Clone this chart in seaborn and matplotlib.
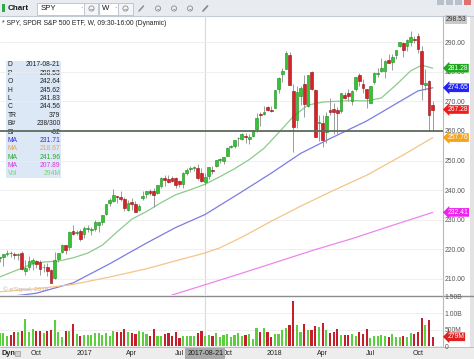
"""
SPY weekly candlestick chart (eSignal look) with moving averages and volume.
"""

import numpy as np
import pandas as pd
import matplotlib
matplotlib.use("Agg")
import matplotlib.pyplot as plt
from matplotlib.patches import Rectangle, Circle
import matplotlib.transforms as mtransforms
import seaborn as sns

# ===================================================================
# Data: SPY weekly bars, week of 2016-07-25 .. week of 2018-10-29
# ===================================================================

opens = [
    216.9, 217.2, 218.3, 218.8, 218.4, 218.0, 218.7, 212.4, 213.8, 215.1,
    215.8, 215.7, 213.8, 214.0, 213.0, 210.1, 216.5, 219.0, 221.2, 220.6,
    226.2, 225.3, 226.0, 225.0, 226.9, 226.3, 226.7, 228.2, 229.3, 231.9,
    235.5, 236.3, 237.9, 237.6, 237.0, 233.3, 235.8, 235.4, 233.1, 237.2,
    238.7, 239.8, 239.5, 239.0, 241.3, 244.0, 243.6, 244.2, 243.9, 242.9,
    241.9, 245.6, 247.0, 247.5, 247.5, 245.6, 242.64, 244.9, 246.8, 248.0,
    250.1, 250.0, 251.5, 254.6, 254.8, 257.5, 257.2, 258.3, 257.3, 258.3,
    260.6, 265.8, 265.6, 268.1, 267.1, 267.8, 274.1, 279.4, 281.1, 285.9,
    273.5, 263.8, 271.7, 275.9, 268.5, 280.0, 273.9, 262.6, 262.6, 259.5,
    267.0, 267.3, 267.0, 266.9, 272.1, 273.0, 270.0, 274.1, 279.1, 275.8,
    274.1, 269.5, 276.5, 279.3, 280.3, 280.2, 284.1, 283.4, 285.9, 288.9,
    289.8, 288.7, 290.0, 291.3, 292.1, 287.1, 275.6, 277.0, 268.8,
]
highs = [
    217.4, 218.2, 219.6, 219.2, 219.0, 218.7, 219.2, 216.4, 217.7, 217.0,
    216.4, 216.2, 214.8, 215.1, 213.2, 219.0, 218.4, 221.6, 221.5, 226.0,
    228.3, 226.6, 226.7, 227.8, 228.0, 227.4, 230.0, 229.3, 231.5, 235.1,
    237.2, 240.3, 238.0, 239.6, 237.6, 236.5, 237.3, 236.3, 235.4, 239.5,
    239.7, 240.2, 240.7, 241.7, 244.3, 245.0, 245.0, 244.6, 244.4, 243.4,
    246.0, 247.3, 248.0, 248.0, 248.9, 247.4, 245.62, 247.8, 248.3, 250.1,
    250.7, 251.3, 254.7, 255.3, 257.1, 257.9, 259.4, 259.3, 259.0, 260.5,
    266.1, 266.4, 268.6, 268.6, 268.6, 274.0, 278.3, 281.5, 287.2, 286.7,
    275.9, 275.3, 275.3, 278.9, 278.9, 280.4, 274.2, 265.3, 265.3, 266.4,
    271.3, 269.4, 268.0, 273.0, 273.1, 274.2, 274.0, 278.4, 279.5, 277.5,
    274.1, 275.4, 279.9, 281.2, 284.8, 284.0, 286.0, 286.0, 287.6, 290.3,
    290.0, 291.3, 293.9, 292.2, 293.2, 288.9, 281.1, 277.4, 270.3,
]
lows = [
    215.6, 214.3, 217.6, 217.3, 216.5, 216.3, 213.0, 211.2, 212.9, 213.0,
    213.5, 211.2, 212.2, 210.9, 208.4, 209.9, 215.6, 218.5, 218.4, 219.7,
    224.8, 224.6, 222.7, 223.9, 225.9, 224.6, 226.0, 225.9, 228.1, 231.4,
    234.7, 236.0, 235.7, 236.4, 232.8, 232.9, 233.1, 232.5, 232.8, 236.7,
    237.4, 238.4, 234.3, 238.7, 240.8, 241.5, 242.4, 242.8, 240.8, 240.9,
    240.7, 245.1, 246.0, 246.4, 243.4, 242.7, 241.83, 243.8, 245.4, 247.9,
    249.0, 248.9, 251.5, 254.3, 254.4, 255.0, 256.8, 256.1, 255.6, 257.9,
    259.6, 261.6, 265.4, 266.9, 266.6, 267.7, 273.0, 276.5, 280.9, 275.5,
    252.9, 261.0, 268.8, 264.8, 268.2, 274.0, 257.8, 256.6, 254.7, 256.0,
    265.3, 259.0, 259.1, 266.2, 270.9, 270.0, 268.9, 273.6, 275.4, 273.0,
    267.8, 269.5, 276.0, 278.4, 279.9, 278.0, 283.2, 280.6, 284.4, 288.5,
    285.0, 287.0, 288.9, 289.7, 286.3, 270.4, 274.0, 259.9, 259.85,
]
closes = [
    217.1, 218.2, 218.5, 218.5, 218.0, 218.4, 213.3, 213.4, 216.0, 216.3,
    215.0, 213.1, 214.0, 212.5, 208.6, 216.4, 218.5, 221.5, 219.7, 225.9,
    225.0, 225.7, 223.5, 227.2, 227.0, 226.7, 229.0, 229.3, 231.5, 235.1,
    236.7, 238.4, 237.7, 237.0, 233.9, 235.7, 235.2, 232.5, 234.6, 238.1,
    239.7, 239.0, 238.3, 241.7, 244.2, 243.4, 242.6, 243.1, 241.8, 242.1,
    245.6, 246.9, 247.4, 247.9, 244.1, 243.0, 244.56, 247.8, 246.6, 250.1,
    250.1, 251.2, 254.4, 255.0, 257.1, 257.7, 259.0, 258.1, 257.9, 260.4,
    264.5, 265.5, 266.5, 267.2, 266.9, 274.0, 278.1, 280.4, 286.6, 275.5,
    261.5, 273.1, 274.7, 269.1, 278.9, 274.2, 258.1, 263.2, 257.0, 265.2,
    266.6, 266.6, 266.0, 273.0, 271.3, 272.0, 273.6, 278.2, 277.1, 274.7,
    271.3, 275.4, 279.6, 279.7, 281.4, 283.6, 283.2, 285.1, 287.5, 290.3,
    287.6, 290.9, 292.0, 290.7, 287.8, 276.0, 276.3, 265.3, 267.28,
]
# weekly volume, millions of shares
volumes = [
    384, 384, 313, 333, 414, 414, 444, 808, 434, 515,
    465, 465, 384, 444, 475, 778, 424, 273, 444, 444,
    667, 364, 313, 333, 333, 333, 384, 394, 333, 384,
    313, 465, 414, 424, 515, 414, 404, 364, 444, 414,
    364, 303, 525, 303, 303, 374, 384, 313, 424, 232,
    303, 303, 303, 303, 384, 465, 294, 343, 303, 404,
    273, 343, 353, 263, 333, 404,
    303, 333, 354, 222, 545, 434, 545, 414, 273, 354,
    354, 485, 535, 636, 1364, 626, 424, 657, 485, 485,
    606, 566, 707, 485, 384, 424, 505, 333, 333, 333,
    354, 313, 424, 354, 505, 253, 303, 303, 343, 303,
    263, 364, 283, 283, 293, 283, 394, 374, 424, 859,
    626, 778, 279,
]

# moving averages, sampled (week index -> value) off the chart
ma20_weeks = [0, 4, 8, 12, 16, 20, 24, 28, 32, 36, 40, 44, 48, 52, 56, 60,
              64, 68, 72, 76, 80, 84, 88, 92, 96, 100, 104, 108, 112, 115, 118]
ma20 = [210.5, 212.5, 214.5, 215.6, 215.9, 217.0, 218.6, 221.3, 225.8, 230.1,
        232.7, 235.7, 238.4, 240.1, 241.96, 244.5, 247.2, 250.3, 254.1, 259.4,
        264.9, 268.8, 269.8, 270.1, 270.3, 270.2, 271.2, 275.6, 280.4, 282.3,
        281.28]
ma50_weeks = [0, 10, 20, 30, 40, 48, 56, 66, 74, 82, 90, 100, 110, 114, 118]
ma50 = [203.5, 205.0, 208.5, 215.0, 222.0, 227.3, 231.71, 239.4, 245.7, 252.4,
        257.4, 263.4, 270.7, 273.6, 274.65]
ma100_weeks = [0, 10, 20, 30, 40, 48, 56, 60, 66, 74, 82, 90, 100, 110, 118]
ma100 = [205.5, 206.5, 208.0, 210.5, 213.3, 216.0, 218.67, 220.4, 224.0, 229.4,
         234.5, 239.3, 245.0, 251.9, 257.76]
ma200_weeks = [40, 48, 56, 66, 76, 86, 96, 106, 118]
ma200 = [201.6, 204.8, 207.89, 211.8, 215.8, 219.8, 223.5, 227.6, 232.41]

tick_weeks = [10, 23, 36, 49, 62, 75, 88, 101, 114]
tick_labels = ["Oct", "2017", "Apr", "Jul", "Oct", "2018", "Apr", "Jul", "Oct"]
price_ticks = [210, 220, 230, 240, 250, 260, 270, 280, 290]
vol_ticks = [0, 500, 1000]
vol_tick_labels = ["0", "500M", "1.00B"]

cursor_week = 56
cursor_label = "2017-08-21"
cursor_price = 259.9

info_labels = ["D", "P", "O", "H", "L", "C", "TR", "B#", "BI",
               "MA", "MA", "MA", "MA", "Vol"]
info_values = ["2017-08-21", "298.53", "242.64", "245.62", "241.83", "244.56",
               "379", "238/300", "-62", "231.71", "218.67", "241.96", "207.89",
               "294M"]

tag_values = [281.28, 274.65, 267.28, 257.76, 232.41]
top_value = 298.53
last_volume = 279

# ===================================================================
# Style
# ===================================================================

UP = "#33c433"
UP_EDGE = "#1d8a1d"
DOWN = "#d92226"
DOWN_EDGE = "#8e1014"
WICK = "#8c8c8c"
VOL_UP = "#5ccf3e"
VOL_DOWN = "#c41f2a"

MA_COLORS = {"20": "#8ccb8c", "50": "#7c7ce4", "100": "#f5c489", "200": "#ee85ee"}
TAG_COLORS = ["#1fa81f", "#2323f5", "#ec1e1e", "#f5a420", "#ef22ef"]
INFO_COLORS = ["#222222"] * 9 + ["#3030d8", "#f0a448", "#2ea62e", "#dd33dd", "#7fcf7f"]

W, H = 474, 359

sns.set_theme(style="white")
plt.rcParams["font.family"] = ["Liberation Sans", "DejaVu Sans"]

fig = plt.figure(figsize=(W / 100, H / 100), dpi=100)
fig.patch.set_facecolor("white")

# background layer in pixel coordinates (y down)
bg = fig.add_axes([0, 0, 1, 1], zorder=-5)
bg.set_xlim(0, W)
bg.set_ylim(H, 0)
bg.axis("off")

ax_p = fig.add_axes([0, 64 / H, 443 / W, 279 / H])
ax_v = fig.add_axes([0, 12 / H, 443 / W, 50 / H])
for ax in (ax_p, ax_v):
    ax.set_facecolor("none")

# ===================================================================
# Window chrome
# ===================================================================

bg.add_patch(Rectangle((0, 0), W, 16, fc="#e8ecf1", ec="none"))
bg.plot([0, W], [16, 16], color="#c3cad3", lw=0.8)
bg.add_patch(Rectangle((2.5, 4), 2.5, 8, fc="#2eaa4a", ec="none"))
bg.text(8, 8.5, "Chart", fontsize=5.8, fontweight="bold", color="#1a1a1a", va="center")
bg.add_patch(Rectangle((37.5, 2.5), 47, 12, fc="white", ec="#b9c1ca", lw=0.6))
bg.text(40.5, 8.7, "SPY", fontsize=5.6, color="#111111", va="center")
bg.text(80, 8.5, "·", fontsize=5, color="#666666", va="center")
bg.add_patch(Rectangle((84.5, 2.5), 14, 12, fc="#f3f5f8", ec="#b9c1ca", lw=0.6))
bg.add_patch(Rectangle((99.5, 2.5), 18.5, 12, fc="white", ec="#b9c1ca", lw=0.6))
bg.text(102, 8.7, "W", fontsize=5.6, color="#111111", va="center")
bg.text(114.5, 8.5, "·", fontsize=5, color="#666666", va="center")
bg.add_patch(Rectangle((118, 2.5), 15, 12, fc="#f3f5f8", ec="#b9c1ca", lw=0.6))
for cx in (91.5, 125.5, 158, 174, 190):
    bg.add_patch(Circle((cx, 8.5), 2.6, fc="none", ec="#8d8d8d", lw=0.6))
    bg.plot([cx - 1.2, cx + 1.2], [8.5, 8.5], color="#8d8d8d", lw=0.5)
bg.plot([139, 143.5], [11, 6], color="#8d8d8d", lw=1.1, solid_capstyle="round")
bg.plot([203, 207.5], [11, 6], color="#8d8d8d", lw=1.3, solid_capstyle="round")
for x0, col in [(437, "#b8c0cc"), (446, "#b8c0cc"), (455, "#b8c0cc"), (464, "#e07070")]:
    bg.add_patch(Rectangle((x0, 0), 7, 4.5, fc=col, ec="none"))

bg.text(2.5, 23.5, "* SPY, SPDR S&P 500 ETF, W, 09:30-16:00 (Dynamic)",
        fontsize=4.9, color="#222222", va="center")

# info box
bg.add_patch(Rectangle((6.5, 60.5), 55, 117, fc="#dce8f5", ec="none"))
for r, (lab, val, col) in enumerate(zip(info_labels, info_values, INFO_COLORS)):
    y = 65 + 8.38 * r
    bg.text(8, y, lab, fontsize=4.9, color=col, va="center")
    bg.text(60.5, y, val, fontsize=4.9, color=col, va="center", ha="right")

bg.text(3, 289, "© eSignal, 2018", fontsize=4.6, color="#b3b3b3", va="center")

# panel separators, right scroll column and date strip
bg.plot([0, W], [296, 296], color="#8c8c8c", lw=1.0)
bg.plot([443, 443], [16, 347], color="#b8b8b8", lw=0.8)
bg.add_patch(Rectangle((470, 16), 4, H - 16, fc="#e3e3e3", ec="none"))
bg.add_patch(Rectangle((0, 347), W, 12, fc="#ededed", ec="none"))
bg.plot([0, W], [347, 347], color="#b5b5b5", lw=0.6)
bg.text(2, 353.5, "Dyn", fontsize=5.3, fontweight="bold", color="#222222", va="center")
bg.add_patch(Rectangle((15.5, 350.5), 5, 5, fc="#d0d0d0", ec="#8a8a8a", lw=0.4))

# ===================================================================
# Price panel
# ===================================================================

wk = np.arange(len(closes))
o = np.array(opens)
c = np.array(closes)
up = c >= o

frames = []
for name, weeks, vals in [("20", ma20_weeks, ma20), ("50", ma50_weeks, ma50),
                          ("100", ma100_weeks, ma100), ("200", ma200_weeks, ma200)]:
    frames.append(pd.DataFrame({"week": weeks, "value": vals, "ma": name}))
ma_df = pd.concat(frames, ignore_index=True)

ax_p.grid(axis="y", color="#ececec", lw=0.6)
ax_p.axvline(cursor_week, color="#d9d9d9", lw=0.8, zorder=0.5)
sns.lineplot(data=ma_df, x="week", y="value", hue="ma", palette=MA_COLORS,
             linewidth=0.9, legend=False, ax=ax_p, estimator=None, zorder=1)

ax_p.vlines(wk, lows, highs, color=WICK, lw=0.6, zorder=2)
ax_p.bar(wk, np.maximum(np.abs(c - o), 0.25), bottom=np.minimum(o, c), width=0.74,
         color=np.where(up, UP, DOWN), edgecolor=np.where(up, UP_EDGE, DOWN_EDGE),
         linewidth=0.4, zorder=3)
ax_p.axhline(cursor_price, color="#5e6b5e", lw=1.3, zorder=4)

ax_p.set_xlim(0.11, 120.8)
ax_p.set_ylim(204.41, 298.98)
ax_p.yaxis.tick_right()
ax_p.set_yticks(price_ticks, [f"{t:.2f}" for t in price_ticks])
ax_p.set_xticks([])
ax_p.tick_params(axis="y", length=0, pad=1.2, labelsize=4.9, labelcolor="#555555")
ax_p.set_xlabel("")
ax_p.set_ylabel("")
for side in ("top", "left", "bottom", "right"):
    ax_p.spines[side].set_visible(False)

for val, col in zip(tag_values, TAG_COLORS):
    ax_p.annotate(f"{val:.2f}", xy=(1.0, val), xycoords=("axes fraction", "data"),
                  xytext=(3.2, 0), textcoords="offset points", ha="left", va="center",
                  fontsize=4.9, color="white", annotation_clip=False, zorder=6,
                  bbox=dict(boxstyle="larrow,pad=0.12", fc=col, ec="none"))
ax_p.annotate(f"{top_value:.2f}", xy=(1.0, 297.7), xycoords=("axes fraction", "data"),
              xytext=(2, 0), textcoords="offset points", ha="left", va="center",
              fontsize=4.9, color="#333333", annotation_clip=False, zorder=6,
              bbox=dict(boxstyle="square,pad=0.12", fc="#c9c9c9", ec="none"))

# ===================================================================
# Volume panel
# ===================================================================

ax_v.grid(axis="y", color="#ececec", lw=0.6)
ax_v.axvline(cursor_week, color="#d9d9d9", lw=0.8, zorder=0.5)
ax_v.bar(wk, volumes, width=0.6, color=np.where(up, VOL_UP, VOL_DOWN),
         linewidth=0, zorder=2)
ax_v.set_xlim(0.11, 120.8)
ax_v.set_ylim(-30, 1485)
ax_v.yaxis.tick_right()
ax_v.set_yticks(vol_ticks, vol_tick_labels)
ax_v.set_xticks(tick_weeks, tick_labels)
ax_v.tick_params(axis="y", length=0, pad=1.2, labelsize=4.9, labelcolor="#555555")
ax_v.tick_params(axis="x", length=0, pad=2.2, labelsize=5, labelcolor="#222222")
for side in ("top", "left", "bottom", "right"):
    ax_v.spines[side].set_visible(False)

ax_v.annotate("1.50B", xy=(1.0, 1470), xycoords=("axes fraction", "data"),
              xytext=(1.2, 0), textcoords="offset points", ha="left", va="center",
              fontsize=4.9, color="#555555", annotation_clip=False)
ax_v.annotate(f"{last_volume}M", xy=(1.0, last_volume), xycoords=("axes fraction", "data"),
              xytext=(3.2, 0), textcoords="offset points", ha="left", va="center",
              fontsize=4.9, color="white", annotation_clip=False, zorder=6,
              bbox=dict(boxstyle="larrow,pad=0.12", fc="#dc2222", ec="none"))

strip = mtransforms.blended_transform_factory(ax_v.transData, ax_v.transAxes)
ax_v.text(cursor_week, -0.13, cursor_label, transform=strip, ha="center", va="center",
          fontsize=5, color="#1a1a1a", clip_on=False, zorder=6,
          bbox=dict(boxstyle="square,pad=0.25", fc="#a9a9a9", ec="none"))

fig.savefig("out.png", dpi=100)
plt.close(fig)
